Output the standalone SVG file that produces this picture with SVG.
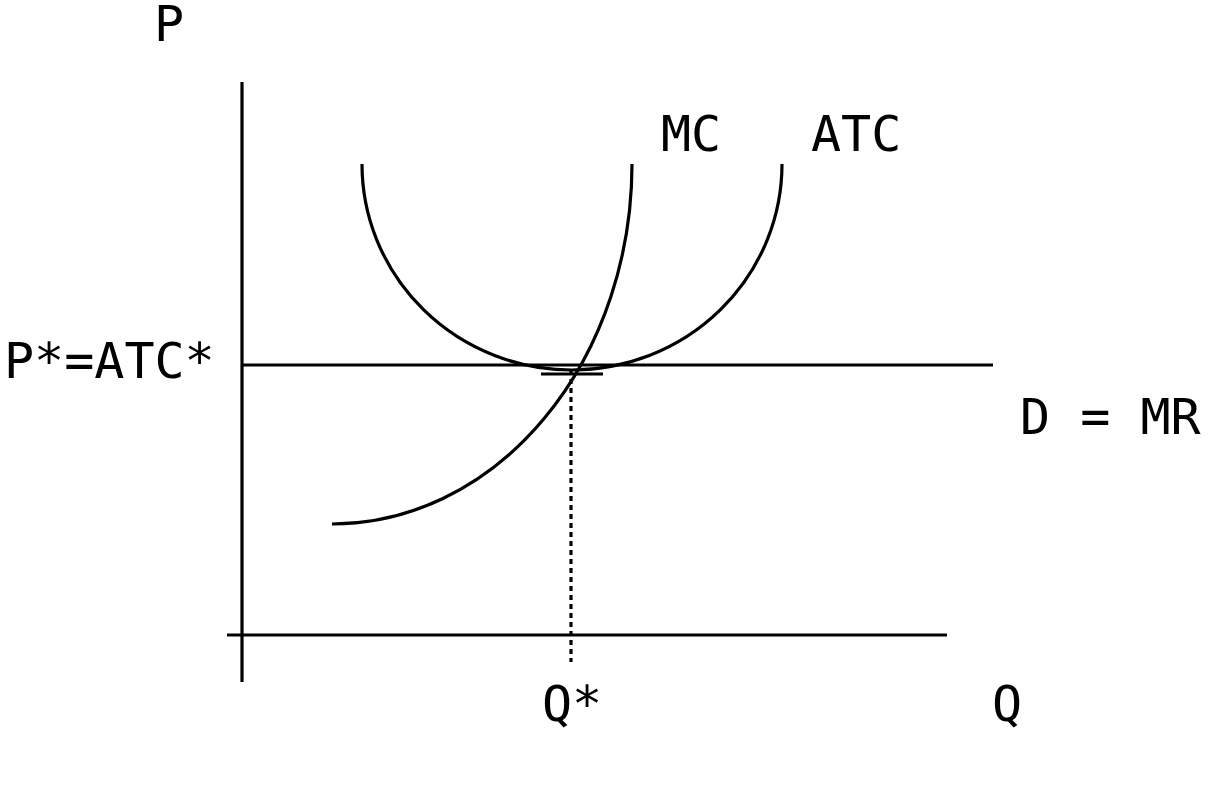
<svg xmlns="http://www.w3.org/2000/svg" width="1221" height="788" viewBox="0 0 1221 788">
<style>
.t{font-family:"DejaVu Sans Mono","Liberation Mono",monospace;font-size:50px;fill:#000}
.l{stroke:#000;stroke-width:3.2;fill:none}
</style>
<rect width="1221" height="788" fill="#fff"/>
<g id="axes">
<line class="l" x1="242" y1="82" x2="242" y2="682"/>
<line class="l" x1="227" y1="635" x2="947" y2="635"/>
</g>
<g id="connectors">
<line class="l" x1="242" y1="365" x2="993" y2="365"/>
<line class="l" x1="541" y1="374" x2="603" y2="374"/>
<line class="l" x1="571" y1="370" x2="571" y2="662" stroke-dasharray="5 4"/>
</g>
<g id="atc"><path class="l" d="M362,164 A210,206 0 0 0 782,164"/></g>
<g id="mc"><path class="l" d="M332,524 A300,360 0 0 0 632,164"/></g>
<g id="labels">
<text class="t" x="154" y="41">P</text>
<text class="t" x="661" y="151">MC</text>
<text class="t" x="811" y="151">ATC</text>
<text class="t" x="4" y="378">P*=ATC*</text>
<text class="t" x="1020" y="434">D = MR</text>
<text class="t" x="542" y="721">Q*</text>
<text class="t" x="992" y="721">Q</text>
</g>
</svg>
